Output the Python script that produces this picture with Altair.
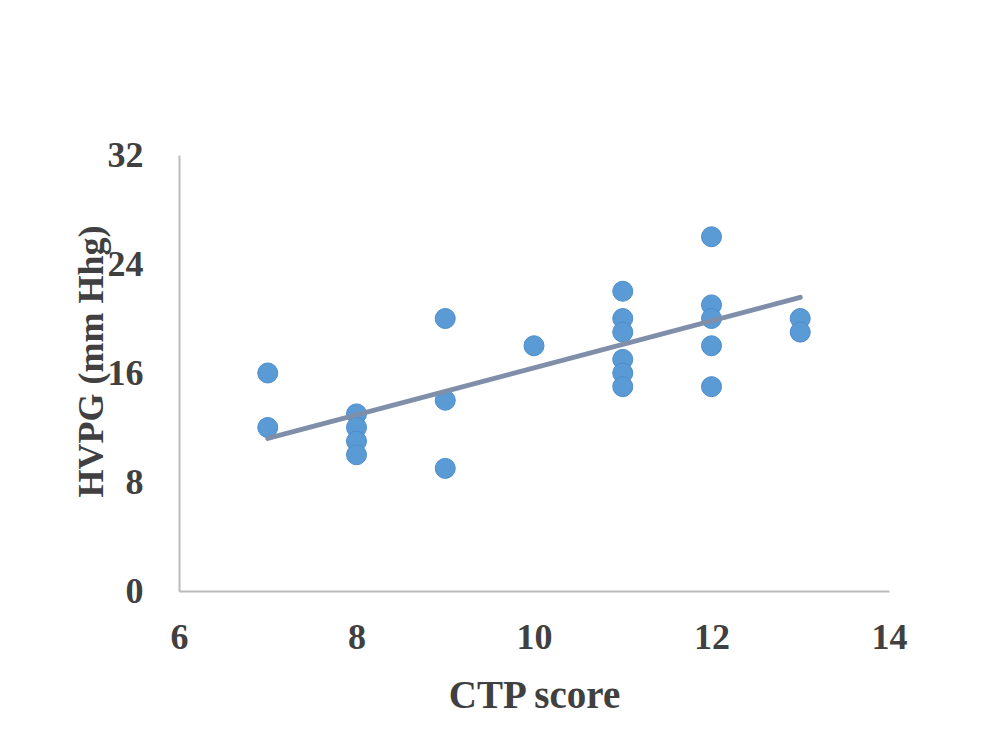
import altair as alt
import pandas as pd

# CTP score (x) and HVPG (y)
ctp = [7, 7, 8, 8, 8, 8, 9, 9, 9, 10,
       11, 11, 11, 11, 11, 11, 12, 12, 12, 12, 12, 13, 13]
hvpg = [16, 12, 13, 12, 11, 10, 20, 14, 9, 18,
        22, 20, 19, 17, 16, 15, 26, 21, 20, 18, 15, 20, 19]

# linear trendline end points
trend_x = [7, 13]
trend_y = [11.2, 21.55]

x_ticks = [6, 8, 10, 12, 14]
y_ticks = [0, 8, 16, 24, 32]

pts = pd.DataFrame({"ctp": ctp, "hvpg": hvpg})
trend = pd.DataFrame({"ctp": trend_x, "hvpg": trend_y})

FONT = "Liberation Serif"
TXT = "#404040"

xscale = alt.Scale(domain=[6, 14], nice=False, zero=False)
yscale = alt.Scale(domain=[0, 32], nice=False, zero=True)

xaxis = alt.Axis(
    title="CTP score", values=x_ticks, format="d", grid=False, ticks=False, tickSize=0,
    domainColor="#BBBBBB", domainWidth=2, labelFlush=False,
    labelFont=FONT, labelFontSize=36, labelFontWeight="bold", labelColor=TXT,
    labelBaseline="alphabetic", labelPadding=57,
    titleFont=FONT, titleFontSize=39, titleFontWeight="bold", titleColor=TXT,
    titleBaseline="alphabetic", titleY=116, titleX=355,
)
yaxis = alt.Axis(
    title="HVPG (mm Hhg)", values=y_ticks, format="d", grid=False, ticks=False, tickSize=0,
    domainColor="#BBBBBB", domainWidth=2, labelFlush=False,
    labelFont=FONT, labelFontSize=36, labelFontWeight="bold", labelColor=TXT,
    labelPadding=36,
    titleFont=FONT, titleFontSize=36, titleFontWeight="bold", titleColor=TXT,
    titleAngle=270, titleBaseline="alphabetic", titleAlign="center",
    titleX=-77, titleY=206,
)

points = alt.Chart(pts).mark_circle(
    size=400, color="#5B9BD5", opacity=1, stroke="#4A8CCB", strokeWidth=1
).encode(
    x=alt.X("ctp:Q", scale=xscale, axis=xaxis),
    y=alt.Y("hvpg:Q", scale=yscale, axis=yaxis),
)

line = alt.Chart(trend).mark_line(
    color="#7F8FAA", strokeWidth=5, strokeCap="round"
).encode(
    x=alt.X("ctp:Q", scale=xscale),
    y=alt.Y("hvpg:Q", scale=yscale),
)

chart = alt.layer(points, line).properties(
    width=710, height=436,
    autosize=alt.AutoSizeParams(type="none"),
    padding={"left": 171, "top": 147, "right": 80, "bottom": 132},
    background="white",
).configure_view(stroke=None)

chart.save("out.html", embed_options={"renderer": "svg", "actions": False})
